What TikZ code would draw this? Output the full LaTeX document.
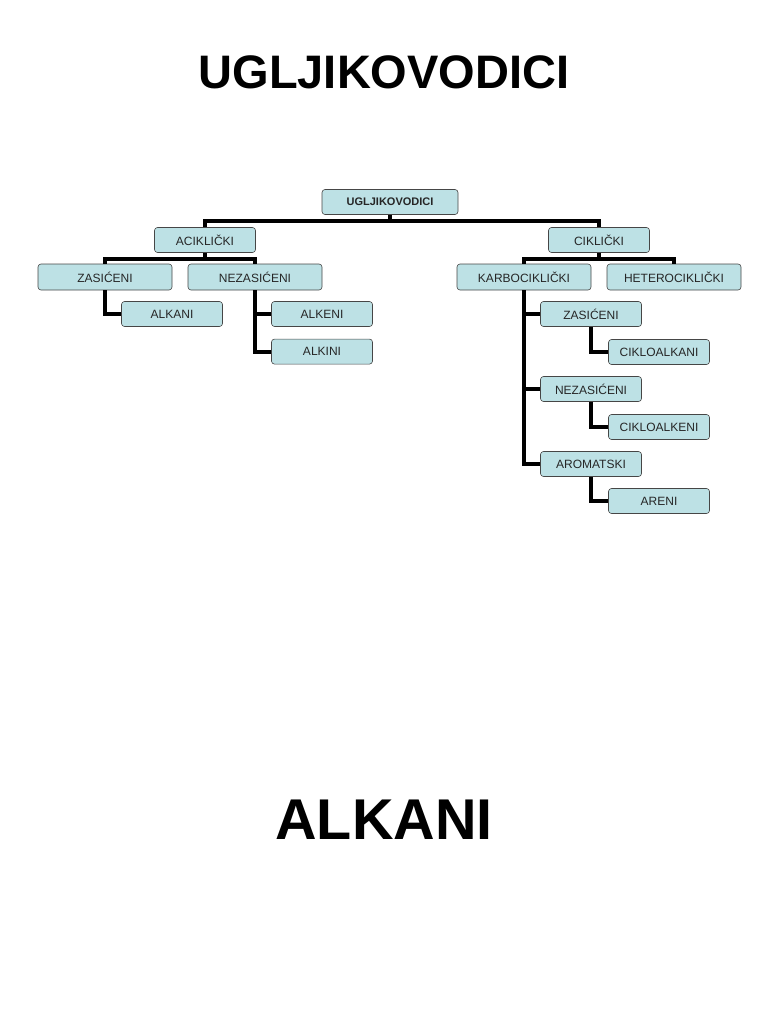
\documentclass[tikz,border=0pt]{standalone}
\usepackage{fontspec}
\setmainfont{Liberation Sans}
\usepackage{tikz}
\usetikzlibrary{positioning}

\definecolor{boxfill}{RGB}{189,225,229}
\definecolor{boxline}{RGB}{70,70,70}

\begin{document}
\begin{tikzpicture}[x=1pt,y=-1pt,semithick]
	\tikzstyle{every node}=[font=\fontsize{12}{14}\selectfont]
	\tikzstyle{box}=[draw=boxline,fill=boxfill,rounded corners=3pt,minimum width=101pt,minimum height=25pt,inner sep=0pt,text=black!85]
	\tikzstyle{widebox}=[box,minimum width=134pt,minimum height=26pt]
	\tikzstyle{link}=[draw,line width=3.8pt,black]
	\tikzstyle{title}=[font=\fontsize{47}{56}\selectfont\bfseries]

	\useasboundingbox (0,0) rectangle (768,1024);

	\node[title]                       (head)  at (384,72)  {UGLJIKOVODICI};
	\node[title,font=\fontsize{57.5}{69}\selectfont\bfseries] (foot) at (384,820) {ALKANI};

	\node[box,minimum width=136pt,font=\fontsize{11}{13}\selectfont\bfseries] (root) at (390,202) {UGLJIKOVODICI};
	\node[box]      (acik)   at (205,240) {ACIKLIČKI};
	\node[box]      (cik)    at (599,240) {CIKLIČKI};
	\node[widebox]  (zasL)   at (105,277) {ZASIĆENI};
	\node[widebox]  (nezL)   at (255,277) {NEZASIĆENI};
	\node[box]      (alkani) at (172,314) {ALKANI};
	\node[box]      (alkeni) at (322,314) {ALKENI};
	\node[box]      (alkini) [below=12pt of alkeni] {ALKINI};
	\node[widebox]  (karbo)  at (524,277) {KARBOCIKLIČKI};
	\node[widebox]  (hetero) at (674,277) {HETEROCIKLIČKI};
	\node[box]      (zasR)   at (591,314) {ZASIĆENI};
	\node[box]      (cikan)  at (659,352) {CIKLOALKANI};
	\node[box]      (nezR)   at (591,389) {NEZASIĆENI};
	\node[box]      (ciken)  at (659,427) {CIKLOALKENI};
	\node[box]      (arom)   at (591,464) {AROMATSKI};
	\node[box]      (areni)  at (659,501) {ARENI};

	% tree lines
	\path[link] (root.south) -- ++(0,6) -| (acik.north)
	            (root.south) -- ++(0,6) -| (cik.north)
	            (acik.south) -- ++(0,6) -| (zasL.north)
	            (acik.south) -- ++(0,6) -| (nezL.north)
	            (cik.south) -- ++(0,6) -| (karbo.north)
	            (cik.south) -- ++(0,6) -| (hetero.north);
	\path[link] (zasL.south) |- (alkani.west)
	            (nezL.south) |- (alkeni.west)
	            (nezL.south) |- (alkini.west)
	            (karbo.south) |- (zasR.west)
	            (karbo.south) |- (nezR.west)
	            (karbo.south) |- (arom.west)
	            (zasR.south) |- (cikan.west)
	            (nezR.south) |- (ciken.west)
	            (arom.south) |- (areni.west);
\end{tikzpicture}
\end{document}
